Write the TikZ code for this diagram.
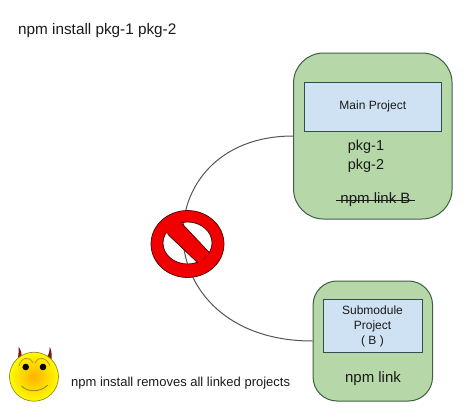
\documentclass[tikz,border=0pt]{standalone}
\usepackage{fontspec}
\setmainfont{Liberation Sans}
\definecolor{boxgreen}{HTML}{B6D7A8}
\definecolor{boxblue}{HTML}{CFE2F3}
\definecolor{edgegreen}{HTML}{3F5F40}
\definecolor{edgeblue}{HTML}{2F4F4F}
\definecolor{ink}{HTML}{1A1A1A}
\definecolor{linkgrey}{HTML}{555555}
\definecolor{nored}{HTML}{F00000}
\definecolor{smileyedge}{HTML}{8F8F20}
\definecolor{browcol}{HTML}{C09820}
\definecolor{horncol}{HTML}{7A1A10}
\tikzset{
  outerbox/.style={draw=edgegreen,fill=boxgreen,line width=1pt,minimum width=#1},
  innerbox/.style={draw=edgeblue,fill=boxblue,line width=1pt,inner sep=0pt,align=center,text=ink,font=\fontsize{12}{15}\selectfont},
  lbl/.style={text=ink,inner sep=0pt,align=center},
  bigtext/.style={lbl,font=\fontsize{14.4}{19.5}\selectfont},
  widetext/.style={lbl,font=\fontsize{15}{20}\selectfont},
  midtext/.style={lbl,font=\fontsize{13}{15}\selectfont},
  linkline/.style={draw=linkgrey,line width=1pt},
  horn/.style={fill=horncol,draw=none},
  eyebrow/.style={draw=browcol,line width=0.9pt}
}
\begin{document}
\begin{tikzpicture}[x=1pt,y=-1pt]
\useasboundingbox (0,0) rectangle (474,418);
% containers
\node[outerbox=158.5pt,minimum height=166pt,rounded corners=30pt,inner sep=0pt] (main) at (372.8,136) {};
\node[outerbox=119.5pt,minimum height=120pt,rounded corners=24pt,inner sep=0pt] (sub) at (372.8,341) {};
\node[innerbox,minimum width=137.5pt,minimum height=49pt] (mainp) at (372.8,106.5) {Main Project};
\node[innerbox,minimum width=99pt,minimum height=53pt] (subp) at (372.5,326) {Submodule\\Project\\( B )};
% connector
\draw[linkline] (main.west) .. controls (143,136) and (143,341) .. (sub.west);
% texts
\node[lbl,anchor=west,font=\fontsize{15.3}{18}\selectfont] (title) at (18,31) {npm install pkg-1 pkg-2};
\node[bigtext] (pkgs) at (366,156.5) {pkg-1\\pkg-2};
\node[widetext,inner xsep=4pt] (strike) at (375.5,200) {npm link B};
\draw[draw=ink,line width=0.8pt] (strike.west) -- (strike.east);
\node[widetext] (lnk) at (373,379) {npm link};
\node[midtext,anchor=west] (note) at (71,383) {npm install removes all linked projects};
% prohibition sign
\path[fill=nored,draw=black!70!red,line width=0.7pt,even odd rule]
  (187.5,244) ellipse [x radius=36.5,y radius=33.5]
  (187.5,243) ellipse [x radius=24.5,y radius=21];
\fill[nored] (181.7,223.3) -- (210,253.3) -- (198.3,263.5) -- (167.7,234.3) -- (165,231) -- (178,220) -- cycle;
\draw[draw=black!70!red,line width=0.7pt] (181.7,223.3) -- (209.7,253);
\draw[draw=black!70!red,line width=0.7pt] (168,234.5) -- (198,263);
% devil smiley
\fill[horn] (18,358) .. controls (18.5,353) and (19,350) .. (18.5,346.5) .. controls (21,350) and (22,354) .. (21.5,357) -- cycle;
\fill[horn] (47,357) .. controls (49,354) and (50,350) .. (49.5,346.5) .. controls (51.5,350) and (52,354) .. (51.5,359) -- cycle;
\shade[inner color=orange!60!yellow,outer color=yellow!97!orange] (34,376.7) circle [radius=24.5];
\draw[smileyedge,line width=0.7pt] (34,376.7) circle [radius=24.5];
\fill[black] (25.7,367) circle [radius=3.3] (43,367) circle [radius=3.3];
\draw[eyebrow] (19,366) .. controls (21,358) and (29,355) .. (33,363);
\draw[eyebrow] (35,363) .. controls (39,355) and (47,358) .. (50,366);
\draw[draw=smileyedge,line width=0.9pt] (21.7,386) .. controls (27,392) and (40,393) .. (47.7,385);
\end{tikzpicture}
\end{document}
